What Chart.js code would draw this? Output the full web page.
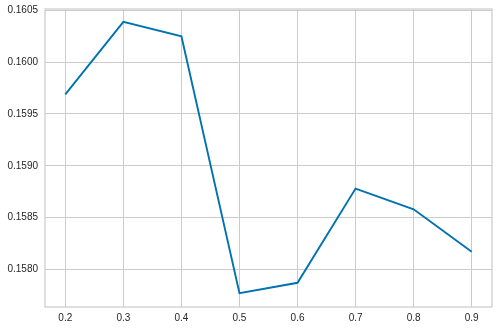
<!DOCTYPE html>
<html><head><meta charset="utf-8">
<script src="https://cdn.jsdelivr.net/npm/chart.js@4/dist/chart.umd.min.js"></script>
<style>html,body{margin:0;padding:0;background:#fff}#wrap{width:498px;height:331px}</style>
</head><body><div id="wrap"><canvas id="c" width="498" height="331"></canvas></div>
<script>
const xValues = [0.2, 0.3, 0.4, 0.5, 0.6, 0.7, 0.8, 0.9];
const yValues = [0.15969, 0.16039, 0.16025, 0.15777, 0.15787, 0.15878, 0.15858, 0.15817];
const xTicks = [0.2, 0.3, 0.4, 0.5, 0.6, 0.7, 0.8, 0.9];
const yTicks = [0.1580, 0.1585, 0.1590, 0.1595, 0.1600, 0.1605];

const frame = {
  id: 'frame',
  afterDatasetsDraw(chart) {
    const a = chart.chartArea, ctx = chart.ctx;
    ctx.save();
    ctx.strokeStyle = '#cccccc';
    ctx.lineWidth = 1.25;
    ctx.strokeRect(a.left, a.top, a.right - a.left, a.bottom - a.top);
    ctx.restore();
  }
};
const font = {family: '"Liberation Sans", Arial, sans-serif', size: 10};
new Chart(document.getElementById('c'), {
  type: 'line',
  data: {datasets: [{
    data: xValues.map((x, i) => ({x, y: yValues[i]})),
    borderColor: '#0072B2', borderWidth: 1.9, pointRadius: 0, fill: false, tension: 0
  }]},
  options: {
    responsive: false, animation: false, devicePixelRatio: 1,
    layout: {padding: {left: 0, top: 9, right: 6, bottom: 0}},
    plugins: {legend: {display: false}, tooltip: {enabled: false}},
    scales: {
      x: {
        type: 'linear', min: 0.165, max: 0.935,
        afterBuildTicks: s => { s.ticks = xTicks.map(v => ({value: v})); },
        afterFit: s => { s.height = 24; s.paddingLeft = 0; s.paddingRight = 0; },
        ticks: {color: '#262626', font, padding: 5, maxRotation: 0, callback: v => v.toFixed(1)},
        grid: {color: '#cccccc', lineWidth: 1, drawTicks: false},
        border: {display: false}
      },
      y: {
        min: 0.157636, max: 0.160514,
        afterBuildTicks: s => { s.ticks = yTicks.map(v => ({value: v})); },
        afterFit: s => { s.width = 45; s.paddingTop = 0; s.paddingBottom = 0; },
        ticks: {color: '#262626', font, padding: 7, callback: v => v.toFixed(4)},
        grid: {color: '#cccccc', lineWidth: 1, drawTicks: false},
        border: {display: false}
      }
    }
  },
  plugins: [frame]
});
</script></body></html>
